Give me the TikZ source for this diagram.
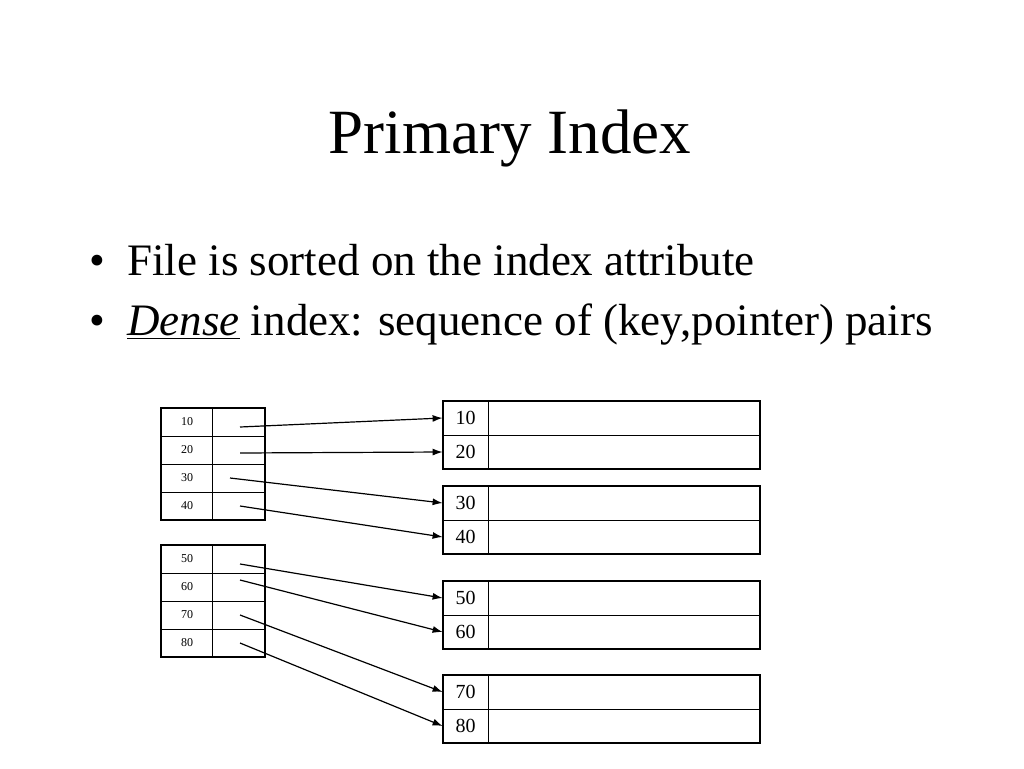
\documentclass[tikz,border=0pt]{standalone}
\usepackage{fontspec}
\setmainfont{Liberation Serif}
\usetikzlibrary{arrows.meta}
\begin{document}
\begin{tikzpicture}[x=1pt,y=-1pt,
  icell/.style={draw,line width=0.8pt,minimum width=51pt,minimum height=28pt,inner sep=0pt,font=\fontsize{12}{13}\selectfont},
  pcell/.style={draw,line width=0.8pt,minimum width=53pt,minimum height=28pt,inner sep=0pt},
  dkey/.style={draw,line width=0.8pt,minimum width=45pt,minimum height=34pt,inner sep=0pt,font=\fontsize{20}{22}\selectfont},
  drest/.style={draw,line width=0.8pt,minimum width=272pt,minimum height=34pt,inner sep=0pt},
  outer/.style={draw,line width=2.5pt},
  ptr/.style={-{Latex[length=10pt,width=7pt]},line width=1.2pt}]
\useasboundingbox (0,0) rectangle (1024,768);
\node (title) at (510,138) {\fontsize{63}{66}\selectfont Primary Index};
\node[anchor=west] (b1) at (86,260) {\fontsize{45}{48}\selectfont\textbullet\hspace{22pt}File is sorted on the index attribute};
\node[anchor=west] (b2) at (86,325) {\fontsize{45}{48}\selectfont\textbullet\hspace{22pt}\underline{\textit{Dense}} index: sequence of (key,pointer) pairs};
% index blocks
\foreach \k/\y in {10/422,20/450,30/478,40/506,50/559,60/587,70/615,80/643}{
  \node[icell] (i\k) at (187,\y) {\k};
  \node[pcell] (p\k) at (238.5,\y) {};
}
\draw[outer] (161,408) rectangle (265,520);
\draw[outer] (161,545) rectangle (265,657);
% data blocks
\foreach \k/\y in {10/418,20/452,30/503,40/537,50/598,60/632,70/692,80/726}{
  \node[dkey] (d\k) at (465.5,\y) {\k};
  \node[drest] (r\k) at (624,\y) {};
}
\foreach \t/\b in {401/469,486/554,581/649,675/743}
  \draw[outer] (443,\t) rectangle (760,\b);
% pointers
\coordinate (s10) at (240,427);
\coordinate (s20) at (240,453);
\coordinate (s30) at (230,478);
\coordinate (s40) at (240,506);
\coordinate (s50) at (240,564);
\coordinate (s60) at (240,580);
\coordinate (s70) at (240,615);
\coordinate (s80) at (240,643);
\foreach \k in {10,20,30,40,50,60,70,80}
  \draw[ptr] (s\k) -- (d\k.west);
\end{tikzpicture}
\end{document}
